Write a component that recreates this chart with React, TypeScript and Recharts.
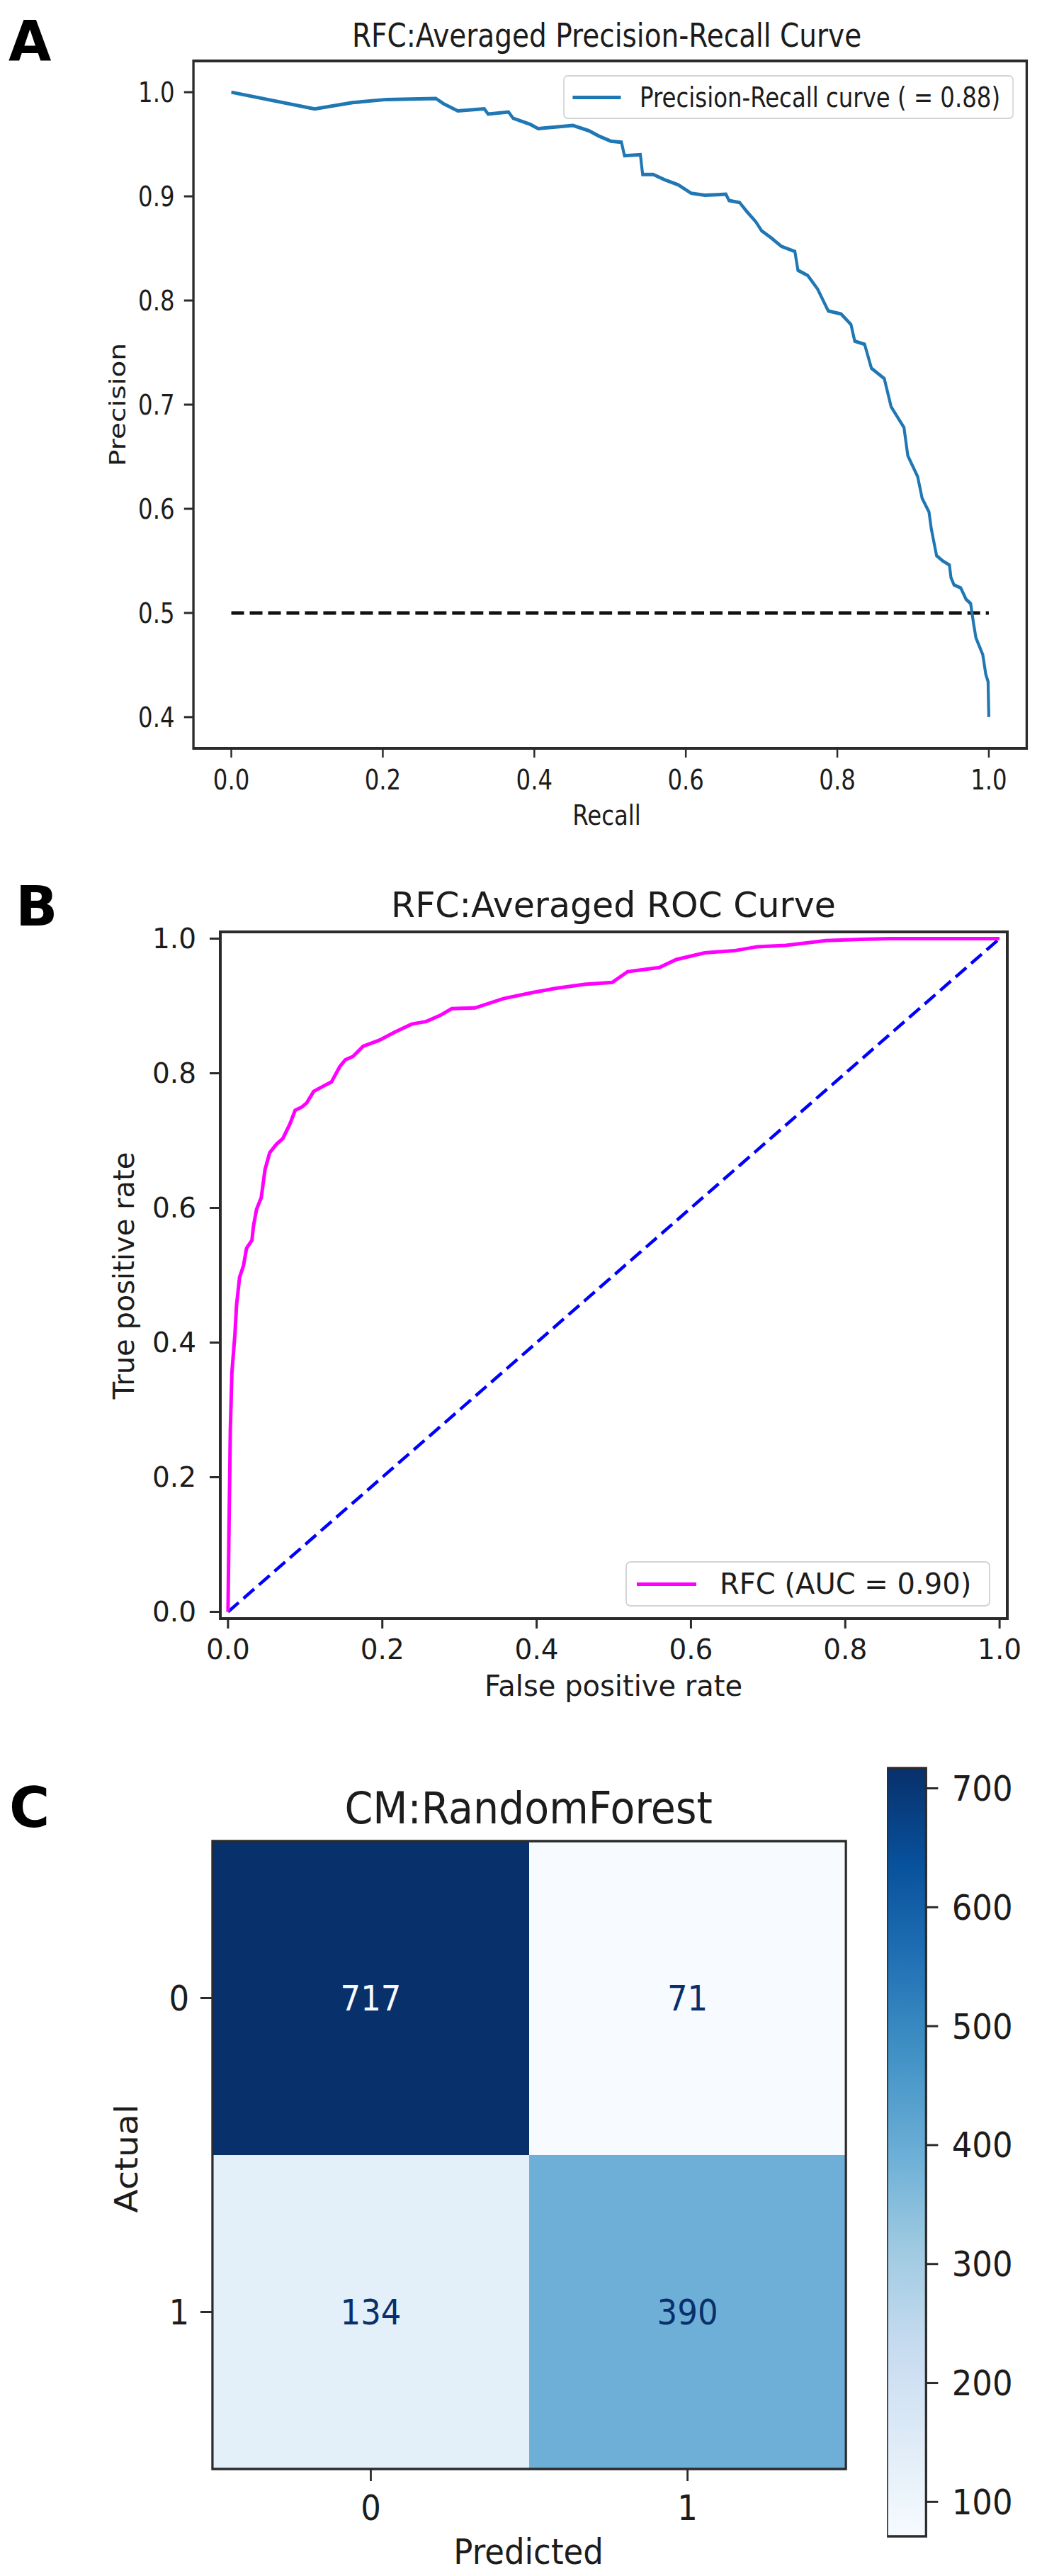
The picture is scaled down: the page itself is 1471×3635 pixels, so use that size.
import React from 'react';
import {
  LineChart,
  Line,
  XAxis,
  YAxis,
  ReferenceArea,
  Legend,
  Label,
  ComposedChart,
  Scatter,
} from 'recharts';

const FONT = '"DejaVu Sans", Verdana, sans-serif';
const INK = '#1c1c1c';
const SPINE = '#2b2b2b';

// ---- A: averaged precision-recall curve, [recall, precision]
const prCurve: [number, number][] = [
  [0.0, 1.0], [0.11, 0.984], [0.16, 0.99], [0.205, 0.993], [0.27, 0.994],
  [0.28, 0.989], [0.299, 0.982], [0.334, 0.984], [0.339, 0.979], [0.366, 0.981],
  [0.372, 0.975], [0.395, 0.969], [0.405, 0.965], [0.451, 0.968], [0.472, 0.963],
  [0.485, 0.958], [0.501, 0.953], [0.515, 0.952], [0.519, 0.939], [0.54, 0.94],
  [0.543, 0.921], [0.557, 0.921], [0.572, 0.916], [0.59, 0.911], [0.607, 0.903],
  [0.625, 0.901], [0.653, 0.902], [0.657, 0.896], [0.671, 0.894], [0.681, 0.885],
  [0.692, 0.876], [0.7, 0.867], [0.713, 0.86], [0.726, 0.852], [0.744, 0.847],
  [0.748, 0.829], [0.761, 0.824], [0.774, 0.811], [0.788, 0.79], [0.805, 0.787],
  [0.818, 0.777], [0.823, 0.761], [0.836, 0.758], [0.845, 0.735], [0.862, 0.725],
  [0.871, 0.698], [0.888, 0.678], [0.893, 0.651], [0.906, 0.631], [0.912, 0.61],
  [0.921, 0.597], [0.924, 0.581], [0.931, 0.555], [0.939, 0.55], [0.948, 0.546],
  [0.95, 0.534], [0.954, 0.527], [0.963, 0.524], [0.97, 0.513], [0.976, 0.509],
  [0.98, 0.489], [0.983, 0.476], [0.992, 0.46], [0.996, 0.441], [0.999, 0.434],
  [1.0, 0.4],
];
const prChance: [number, number][] = [[0, 0.5], [1, 0.5]];
const prXTicks = [0, 0.2, 0.4, 0.6, 0.8, 1.0];
const prYTicks = [0.4, 0.5, 0.6, 0.7, 0.8, 0.9, 1.0];
const prLegendLabel = 'Precision-Recall curve ( = 0.88)';

// ---- B: averaged ROC curve, [false positive rate, true positive rate]
const rocCurve: [number, number][] = [
  [0, 0], [0.001, 0.1], [0.003, 0.27], [0.005, 0.355], [0.009, 0.413],
  [0.011, 0.455], [0.015, 0.497], [0.02, 0.514], [0.024, 0.54], [0.031, 0.552],
  [0.033, 0.573], [0.037, 0.598], [0.043, 0.615], [0.048, 0.657], [0.054, 0.682],
  [0.063, 0.695], [0.071, 0.703], [0.08, 0.724], [0.087, 0.745], [0.096, 0.75],
  [0.102, 0.756], [0.111, 0.773], [0.127, 0.783], [0.134, 0.787], [0.145, 0.81],
  [0.152, 0.82], [0.162, 0.825], [0.175, 0.84], [0.196, 0.849], [0.216, 0.861],
  [0.238, 0.873], [0.257, 0.877], [0.275, 0.886], [0.29, 0.896], [0.32, 0.897],
  [0.357, 0.911], [0.395, 0.92], [0.424, 0.926], [0.462, 0.932], [0.498, 0.935],
  [0.518, 0.951], [0.559, 0.957], [0.581, 0.969], [0.618, 0.979], [0.656, 0.982],
  [0.686, 0.988], [0.723, 0.99], [0.775, 0.997], [0.82, 0.999], [0.857, 1.0],
  [1.0, 1.0],
];
const rocChance: [number, number][] = [[0, 0], [1, 1]];
const rocTicks = [0, 0.2, 0.4, 0.6, 0.8, 1.0];
const rocLegendLabel = 'RFC (AUC = 0.90)';

// ---- C: confusion matrix, rows = actual, columns = predicted
const cmClasses = ['0', '1'];
const cmCounts = [
  [717, 71],
  [134, 390],
];
const cbTicks = [100, 200, 300, 400, 500, 600, 700];

// matplotlib "Blues"
const BLUES = ['#f7fbff', '#deebf7', '#c6dbef', '#9ecae1', '#6baed6', '#4292c6', '#2171b5', '#08519c', '#08306b'];

const hex = (c: string) => [1, 3, 5].map((i) => parseInt(c.slice(i, i + 2), 16));
function blues(t: number) {
  const p = Math.max(0, Math.min(1, t)) * (BLUES.length - 1);
  const i = Math.min(Math.floor(p), BLUES.length - 2);
  const f = p - i;
  const a = hex(BLUES[i]);
  const b = hex(BLUES[i + 1]);
  const m = a.map((v, k) => Math.round(v + (b[k] - v) * f));
  return `rgb(${m[0]},${m[1]},${m[2]})`;
}

const prData = prCurve.map(([recall, precision]) => ({ recall, precision }));
const prChanceData = prChance.map(([recall, chance]) => ({ recall, chance }));
const rocData = rocCurve.map(([fpr, tpr]) => ({ fpr, tpr }));
const rocChanceData = rocChance.map(([fpr, chance]) => ({ fpr, chance }));

const cmCells = cmCounts.flatMap((row, r) => row.map((count, c) => ({ col: c, row: r, count })));
const cmMin = Math.min(...cmCounts.flat());
const cmMax = Math.max(...cmCounts.flat());
const cmNorm = (v: number) => (v - cmMin) / (cmMax - cmMin);

const fmt1 = (v: number) => v.toFixed(1);

// axis title drawn at a fixed spot, optionally rotated
const axisTitle = (x: number, y: number, size: number, rotate = false) => (props: any) => (
  <text
    x={x}
    y={y}
    textAnchor="middle"
    fontSize={size}
    fontFamily={FONT}
    fill={INK}
    transform={rotate ? `rotate(-90 ${x} ${y})` : undefined}
  >
    {props.value}
  </text>
);

function BoxLegend(props: any) {
  const { payload, height, fontSize, swatch, gap, pad } = props;
  const items = (payload || []).filter((p: any) => p.type !== 'none');
  return (
    <div
      style={{
        boxSizing: 'border-box',
        height,
        border: '2px solid #d4d4d4',
        borderRadius: 7,
        background: 'rgba(255,255,255,0.85)',
        display: 'flex',
        alignItems: 'center',
        paddingLeft: pad,
        fontFamily: FONT,
        fontSize,
        color: INK,
        whiteSpace: 'nowrap',
      }}
    >
      {items.map((p: any) => (
        <React.Fragment key={p.value}>
          <span style={{ display: 'inline-block', width: swatch, height: 5, background: p.color, marginRight: gap }} />
          <span>{p.value}</span>
        </React.Fragment>
      ))}
    </div>
  );
}

const titleStyle = (center: number, top: number, size: number): React.CSSProperties => ({
  position: 'absolute',
  left: center - 800,
  width: 1600,
  top,
  textAlign: 'center',
  fontFamily: FONT,
  fontSize: size,
  lineHeight: 1,
  color: INK,
  whiteSpace: 'nowrap',
});

const letterStyle = (left: number, top: number): React.CSSProperties => ({
  position: 'absolute',
  left,
  top,
  fontFamily: FONT,
  fontWeight: 'bold',
  fontSize: 78,
  lineHeight: 1,
  color: '#000',
});

// panel A text is horizontally narrowed in the figure
const A_SQUEEZE = 0.83;
const A_W = 1471 / A_SQUEEZE;

function PrecisionRecallPanel() {
  const tick = { fontSize: 39, fill: INK, fontFamily: FONT };
  const tickLine = { stroke: SPINE, strokeWidth: 3 };
  return (
    <div
      style={{
        position: 'absolute',
        left: 0,
        top: 0,
        width: A_W,
        height: 1180,
        transform: `scaleX(${A_SQUEEZE})`,
        transformOrigin: '0 0',
      }}
    >
      <div style={titleStyle(1032, 26, 47)}>RFC:Averaged Precision-Recall Curve</div>
      <div style={{ position: 'absolute', left: 0, top: 0 }}>
        <LineChart width={A_W} height={1180} margin={{ top: 86, right: 26, bottom: 0, left: 0 }}>
          <XAxis
            type="number"
            dataKey="recall"
            domain={[-0.05, 1.05]}
            allowDataOverflow
            ticks={prXTicks}
            interval={0}
            tickFormatter={fmt1}
            tick={tick}
            tickLine={tickLine}
            tickSize={13}
            tickMargin={17}
            axisLine={false}
            height={124}
          >
            <Label value="Recall" content={axisTitle(1032, 1164, 39)} />
          </XAxis>
          <YAxis
            type="number"
            domain={[0.37, 1.03]}
            allowDataOverflow
            ticks={prYTicks}
            interval={0}
            tickFormatter={fmt1}
            tick={tick}
            tickLine={tickLine}
            tickSize={16}
            tickMargin={16}
            axisLine={false}
            width={329}
          >
            <Label value="Precision" content={axisTitle(213, 571, 39, true)} />
          </YAxis>
          <Line
            data={prChanceData}
            dataKey="chance"
            stroke="#111"
            strokeWidth={5}
            strokeDasharray="21.7 9.6"
            dot={false}
            legendType="none"
            isAnimationActive={false}
          />
          <Line
            data={prData}
            dataKey="precision"
            name={prLegendLabel}
            type="linear"
            stroke="#1f77b4"
            strokeWidth={5}
            dot={false}
            isAnimationActive={false}
          />
          <ReferenceArea x1={-0.05} x2={1.05} y1={0.37} y2={1.03} fill="none" stroke={SPINE} strokeWidth={4} />
          <Legend
            layout="vertical"
            align="center"
            verticalAlign="middle"
            wrapperStyle={{ left: 958, top: 106, width: 766, height: 62 }}
            content={(p: any) => <BoxLegend {...p} height={62} fontSize={39} swatch={82} gap={32} pad={14} />}
          />
        </LineChart>
      </div>
    </div>
  );
}

function RocPanel() {
  const tick = { fontSize: 39, fill: INK, fontFamily: FONT };
  const tickLine = { stroke: SPINE, strokeWidth: 3 };
  return (
    <div style={{ position: 'absolute', left: 0, top: 1180, width: 1471, height: 1250 }}>
      <div style={titleStyle(866, 73, 49)}>RFC:Averaged ROC Curve</div>
      <div style={{ position: 'absolute', left: 0, top: 0 }}>
        <LineChart width={1471} height={1250} margin={{ top: 135, right: 49, bottom: 0, left: 0 }}>
          <XAxis
            type="number"
            dataKey="fpr"
            domain={[-0.01, 1.01]}
            allowDataOverflow
            ticks={rocTicks}
            interval={0}
            tickFormatter={fmt1}
            tick={tick}
            tickLine={tickLine}
            tickSize={14}
            tickMargin={15}
            axisLine={false}
            height={146}
          >
            <Label value="False positive rate" content={axisTitle(866, 1213, 40)} />
          </XAxis>
          <YAxis
            type="number"
            domain={[-0.01, 1.01]}
            allowDataOverflow
            ticks={rocTicks}
            interval={0}
            tickFormatter={fmt1}
            tick={tick}
            tickLine={tickLine}
            tickSize={15}
            tickMargin={19}
            axisLine={false}
            width={311}
          >
            <Label value="True positive rate" content={axisTitle(189, 620, 40, true)} />
          </YAxis>
          <Line
            data={rocChanceData}
            dataKey="chance"
            stroke="#0000ff"
            strokeWidth={4.5}
            strokeDasharray="20 9"
            dot={false}
            legendType="none"
            isAnimationActive={false}
          />
          <Line
            data={rocData}
            dataKey="tpr"
            name={rocLegendLabel}
            type="linear"
            stroke="#ff00ff"
            strokeWidth={5}
            dot={false}
            isAnimationActive={false}
          />
          <ReferenceArea x1={-0.01} x2={1.01} y1={-0.01} y2={1.01} fill="none" stroke={SPINE} strokeWidth={4} />
          <Legend
            layout="vertical"
            align="center"
            verticalAlign="middle"
            wrapperStyle={{ left: 883, top: 1023, width: 515, height: 64 }}
            content={(p: any) => <BoxLegend {...p} height={64} fontSize={40} swatch={84} gap={33} pad={14} />}
          />
        </LineChart>
      </div>
    </div>
  );
}

// count printed in each cell, light text on dark cells
const CountText = (props: any) => {
  const { cx, cy, payload } = props;
  const dark = cmNorm(payload.count) > 0.5;
  return (
    <text x={cx} y={cy} dy="0.36em" textAnchor="middle" fontSize={49} fontFamily={FONT} fill={dark ? BLUES[0] : BLUES[8]}>
      {payload.count}
    </text>
  );
};

const C_SQUEEZE = 0.92;
const C_W = 1471 / C_SQUEEZE;

function ConfusionPanel() {
  const tick = { fontSize: 49, fill: INK, fontFamily: FONT };
  const tickLine = { stroke: SPINE, strokeWidth: 3 };
  return (
    <div
      style={{
        position: 'absolute',
        left: 0,
        top: 2430,
        width: C_W,
        height: 1205,
        transform: `scaleX(${C_SQUEEZE})`,
        transformOrigin: '0 0',
      }}
    >
      <div style={titleStyle(811, 91, 62)}>CM:RandomForest</div>
      <div style={{ position: 'absolute', left: 0, top: 0 }}>
        <ComposedChart width={1340} height={1205} margin={{ top: 168, right: 42, bottom: 0, left: 0 }}>
          <XAxis
            type="number"
            dataKey="col"
            domain={[-0.5, 1.5]}
            allowDataOverflow
            ticks={[0, 1]}
            interval={0}
            tickFormatter={(v: number) => cmClasses[v]}
            tick={tick}
            tickLine={tickLine}
            tickSize={17}
            tickMargin={20}
            axisLine={false}
            height={151}
          >
            <Label value="Predicted" content={axisTitle(811, 1188, 49)} />
          </XAxis>
          <YAxis
            type="number"
            dataKey="row"
            domain={[-0.5, 1.5]}
            reversed
            allowDataOverflow
            ticks={[0, 1]}
            interval={0}
            tickFormatter={(v: number) => cmClasses[v]}
            tick={tick}
            tickLine={tickLine}
            tickSize={18.5}
            tickMargin={17}
            axisLine={false}
            width={326}
          >
            <Label value="Actual" content={axisTitle(211, 616, 49, true)} />
          </YAxis>
          {cmCells.map((c) => (
            <ReferenceArea
              key={`${c.row}-${c.col}`}
              x1={c.col - 0.5}
              x2={c.col + 0.5}
              y1={c.row - 0.5}
              y2={c.row + 0.5}
              fill={blues(cmNorm(c.count))}
              fillOpacity={1}
              stroke="none"
            />
          ))}
          <Scatter data={cmCells} shape={CountText} isAnimationActive={false} />
          <ReferenceArea x1={-0.5} x2={1.5} y1={-0.5} y2={1.5} fill="none" stroke={SPINE} strokeWidth={3.5} />
        </ComposedChart>
      </div>
      <div style={{ position: 'absolute', left: 1361, top: 0 }}>
        <ComposedChart width={260} height={1205} margin={{ top: 65, right: 0, bottom: 56, left: 0 }}>
          <defs>
            <linearGradient id="bluesRamp" x1="0" y1="1" x2="0" y2="0">
              {BLUES.map((c, i) => (
                <stop key={c} offset={i / (BLUES.length - 1)} stopColor={c} />
              ))}
            </linearGradient>
          </defs>
          <XAxis type="number" dataKey="x" domain={[0, 1]} allowDataOverflow hide />
          <YAxis
            type="number"
            orientation="right"
            domain={[cmMin, cmMax]}
            allowDataOverflow
            ticks={cbTicks}
            interval={0}
            tick={tick}
            tickLine={tickLine}
            tickSize={18.5}
            tickMargin={21}
            axisLine={false}
            width={200}
          />
          <ReferenceArea
            x1={0}
            x2={1}
            y1={cmMin}
            y2={cmMax}
            fill="url(#bluesRamp)"
            fillOpacity={1}
            stroke={SPINE}
            strokeWidth={3.5}
          />
        </ComposedChart>
      </div>
    </div>
  );
}

export default function App() {
  return (
    <div
      style={{
        position: 'absolute',
        left: 0,
        top: 0,
        width: 1471,
        height: 3635,
        background: '#fff',
        overflow: 'hidden',
      }}
    >
      <PrecisionRecallPanel />
      <RocPanel />
      <ConfusionPanel />
      <div style={letterStyle(12, 19)}>A</div>
      <div style={letterStyle(22, 1240)}>B</div>
      <div style={letterStyle(13, 2512)}>C</div>
    </div>
  );
}
